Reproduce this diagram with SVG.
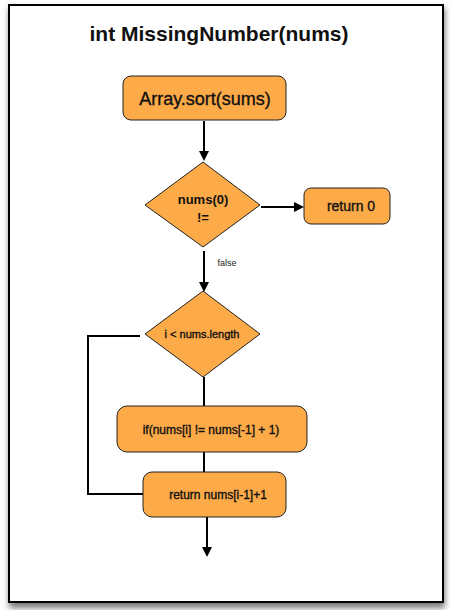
<svg xmlns="http://www.w3.org/2000/svg" width="450" height="610" viewBox="0 0 450 610">
<defs>
<style>
.node{fill:#FDAA48;stroke:#222;stroke-width:1}
.lbl{font-family:"Liberation Sans",Arial,sans-serif;fill:#111;text-anchor:middle}
.nl{stroke:#111;stroke-width:0.35}
.conn{fill:none;stroke:#000;stroke-width:2}
</style>
<marker id="arr" markerWidth="10" markerHeight="10" refX="8" refY="5" orient="auto" markerUnits="userSpaceOnUse">
<path d="M0,0 L10,5 L0,10 z" fill="#000"/>
</marker>
<filter id="sh" x="-10%" y="-10%" width="120%" height="120%">
<feGaussianBlur stdDeviation="3"/>
</filter>
</defs>
<rect width="450" height="610" fill="#fff"/>
<rect x="9" y="8" width="436" height="600" fill="#777" filter="url(#sh)"/>
<rect x="9" y="5" width="434" height="597" fill="#fff" stroke="#000" stroke-width="2"/>
<text class="lbl" x="219" y="41" font-size="21" font-weight="bold">int MissingNumber(nums)</text>
<g id="connectors">
<line class="conn" x1="204" y1="121" x2="204" y2="159" marker-end="url(#arr)"/>
<line class="conn" x1="261" y1="207" x2="302" y2="207" marker-end="url(#arr)"/>
<line class="conn" x1="204" y1="251" x2="204" y2="290" marker-end="url(#arr)"/>
<line class="conn" x1="204" y1="377" x2="204" y2="406"/>
<line class="conn" x1="204" y1="452" x2="204" y2="472"/>
<polyline class="conn" points="140,336 88,336 88,494 143,494"/>
<line class="conn" x1="207" y1="517" x2="207" y2="555" marker-end="url(#arr)"/>
<text class="lbl" x="227" y="266" font-size="9" style="fill:#222">false</text>
</g>
<g id="sort">
<rect class="node" x="123" y="76" width="163" height="44" rx="8"/>
<text class="lbl nl" x="205" y="105" font-size="18">Array.sort(sums)</text>
</g>
<g id="check0">
<polygon class="node" points="203,162 260,205 203,247 145,205"/>
<text class="lbl" x="203" y="204" font-size="13" font-weight="bold">nums(0)</text>
<text class="lbl" x="203" y="222" font-size="13" font-weight="bold">!=</text>
</g>
<g id="ret0">
<rect class="node" x="304" y="188" width="86" height="36" rx="7"/>
<text class="lbl nl" x="351" y="211" font-size="14">return 0</text>
</g>
<g id="loop">
<polygon class="node" points="203,291 260,334 203,377 145,334"/>
<text class="lbl nl" x="202" y="338" font-size="11">i &lt; nums.length</text>
</g>
<g id="ifcheck">
<rect class="node" x="117" y="406" width="190" height="46" rx="10"/>
<text class="lbl nl" x="211" y="434" font-size="12">if(nums[i] != nums[-1] + 1)</text>
</g>
<g id="retn">
<rect class="node" x="143" y="472" width="143" height="45" rx="9"/>
<text class="lbl nl" x="218" y="499" font-size="12">return nums[i-1]+1</text>
</g>
</svg>
